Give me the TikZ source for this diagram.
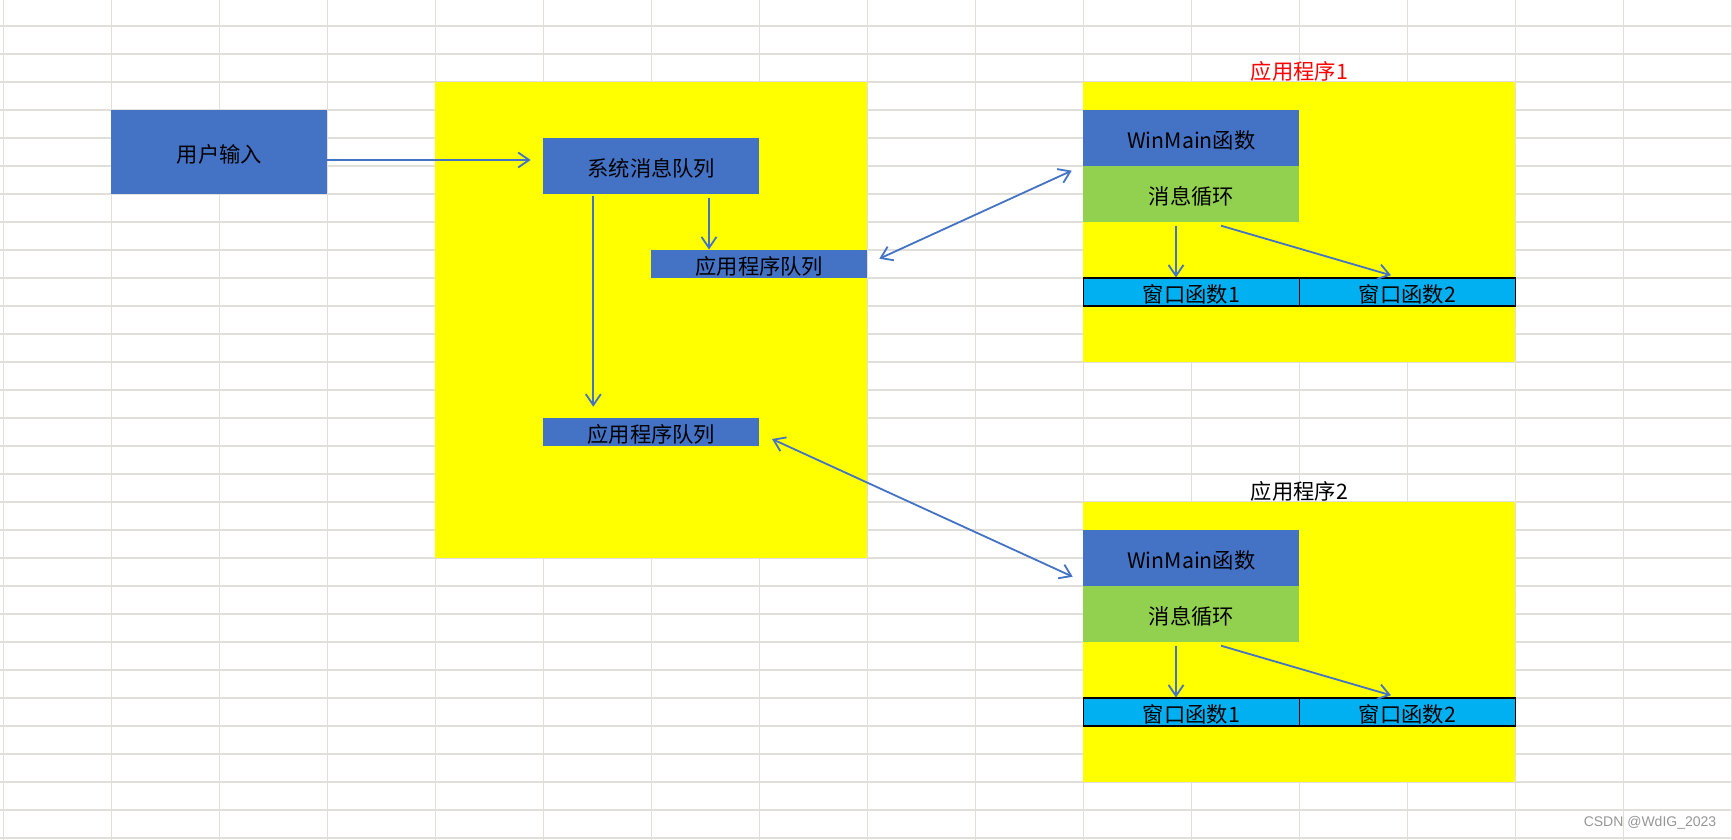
\documentclass[tikz,border=0pt]{standalone}
\usepackage{fontspec}
\setmainfont{Noto Sans CJK SC}
\newfontfamily\wmfont{Liberation Sans}
\usetikzlibrary{arrows.meta,calc}
\definecolor{xlblue}{RGB}{68,114,196}
\definecolor{xlyellow}{RGB}{255,255,0}
\definecolor{xlgreen}{RGB}{146,208,80}
\definecolor{xlcyan}{RGB}{0,176,240}
\definecolor{xlgrid}{RGB}{226,222,218}
\definecolor{wmgray}{RGB}{150,150,150}
\tikzset{
  cell/.style={anchor=north west, inner sep=0pt, outer sep=0pt,
    font=\fontsize{21.3}{24}\selectfont, text=black,
    text height=20.6pt, text depth=0pt},
  bluebox/.style={cell, fill=xlblue},
  greenbox/.style={cell, fill=xlgreen},
  cyanbox/.style={cell, fill=xlcyan, draw=black, line width=1.3pt},
  yellowbox/.style={cell, fill=xlyellow},
  gridline/.style={draw=xlgrid, line width=1.2pt},
  arr/.style={draw=xlblue, line width=1.8pt, -{Straight Barb[length=11pt,width=15pt]}},
  darr/.style={draw=xlblue, line width=1.8pt, {Straight Barb[length=11pt,width=15pt]}-{Straight Barb[length=11pt,width=15pt]}},
  applabel/.style={inner sep=0pt, font=\fontsize{21.3}{24}\selectfont}
}
\begin{document}
\begin{tikzpicture}[x=1pt,y=-1pt]
\useasboundingbox (0,0) rectangle (1732,840);
\fill[white] (0,0) rectangle (1732,840);
% grid
\foreach \k in {0,...,16} {\draw[gridline] ({3.3+108*\k},0) -- ({3.3+108*\k},840);}
\foreach \k in {1,...,30} {\draw[gridline] (0,{-2+28*\k}) -- (1732,{-2+28*\k});}

% user input
\node[bluebox, minimum width=216, minimum height=84] (in) at (111.3,110) {用户输入};

% system area
\node[yellowbox, minimum width=432, minimum height=476] (sysarea) at (435.3,82) {};
\node[bluebox, minimum width=216, minimum height=56] (sys) at (543.3,138) {系统消息队列};
\node[bluebox, minimum width=216, minimum height=28] (q1) at (651.3,250) {应用程序队列};
\node[bluebox, minimum width=216, minimum height=28] (q2) at (543.3,418) {应用程序队列};

% application 1
\node[yellowbox, minimum width=432, minimum height=280] (app1) at (1083.3,82) {};
\node[applabel, text=red] (lab1) at (1299.3,71) {应用程序1};
\node[bluebox, minimum width=216, minimum height=56] (wm1) at (1083.3,110) {WinMain函数};
\node[greenbox, minimum width=216, minimum height=56] (lp1) at (1083.3,166) {消息循环};
\node[cyanbox, minimum width=216, minimum height=28] (w11) at (1083.3,278) {窗口函数1};
\node[cyanbox, minimum width=216, minimum height=28] (w12) at (1299.3,278) {窗口函数2};

% application 2
\node[yellowbox, minimum width=432, minimum height=280] (app2) at (1083.3,502) {};
\node[applabel, text=black] (lab2) at (1299.3,491) {应用程序2};
\node[bluebox, minimum width=216, minimum height=56] (wm2) at (1083.3,530) {WinMain函数};
\node[greenbox, minimum width=216, minimum height=56] (lp2) at (1083.3,586) {消息循环};
\node[cyanbox, minimum width=216, minimum height=28] (w21) at (1083.3,698) {窗口函数1};
\node[cyanbox, minimum width=216, minimum height=28] (w22) at (1299.3,698) {窗口函数2};

% connectors
\draw[arr] ($(in.east)+(0,8)$) -- ($(sys.west)+(-12.6,-6)$);
\draw[arr] ($(sys.south)+(57.7,4)$) -- ($(q1.north)+(-50.3,-0.5)$);
\draw[arr] ($(sys.south)+(-58,2)$) -- ($(q2.north)+(-58,-11.3)$);
\draw[darr] ($(q1.east)+(12,-5.3)$) -- ($(wm1.south west)+(-11.6,4.7)$);
\draw[darr] ($(q2.east)+(12.7,7)$) -- ($(wm2.south west)+(-10.6,-9.3)$);
\draw[arr] ($(lp1.south)+(-15.3,4)$) -- ($(w11.north)+(-15.3,-0.5)$);
\draw[arr] ($(lp1.south)+(29.7,3.7)$) -- ($(w12.north)+(-16.3,-2.7)$);
\draw[arr] ($(lp2.south)+(-15.3,4)$) -- ($(w21.north)+(-15.3,-0.5)$);
\draw[arr] ($(lp2.south)+(29.7,3.7)$) -- ($(w22.north)+(-16.3,-2.7)$);

% watermark
\node[inner sep=0pt, text=wmgray, font=\wmfont\fontsize{14}{16}\selectfont] (wm) at (1650,823) {CSDN @WdIG\_2023};
\end{tikzpicture}
\end{document}
